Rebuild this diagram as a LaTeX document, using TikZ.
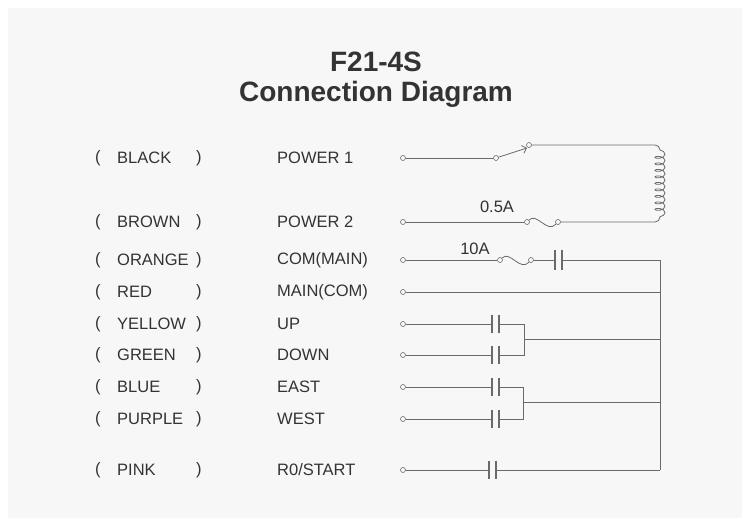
\documentclass[tikz,border=0pt]{standalone}
\usepackage{fontspec}
\setmainfont{Liberation Sans}
\usetikzlibrary{decorations.pathmorphing,arrows.meta}
\definecolor{bg}{HTML}{F7F7F7}
\definecolor{txt}{HTML}{333333}
\definecolor{wire}{HTML}{6A6A6A}
\begin{document}
\begin{tikzpicture}[x=1pt,y=-1pt,
  term/.style={circle,draw=wire,fill=bg,inner sep=0pt,minimum size=5pt,line width=0.6pt},
  lbl/.style={anchor=west,text=txt,font=\fontsize{16.5}{18}\selectfont,inner sep=0pt},
  w/.style={draw=wire,line width=0.8pt},
  plate/.style={draw=wire,line width=1.1pt}]
\fill[white] (0,0) rectangle (750,526);
\fill[bg] (8,8) rectangle (742,518);
\node[text=txt,font=\bfseries\fontsize{28}{30}\selectfont] (t1) at (376,62) {F21-4S};
\node[text=txt,font=\bfseries\fontsize{28}{30}\selectfont] (t2) at (376,94) {Connection Diagram};
\foreach \y/\c/\s [count=\i] in {158/BLACK/POWER 1,222/BROWN/POWER 2,260/ORANGE/COM(MAIN),292/RED/MAIN(COM),324/YELLOW/UP,355/GREEN/DOWN,387/BLUE/EAST,419/PURPLE/WEST,470/PINK/{R0/START}}{
  \node[lbl] (pl\i) at (95,\y) {(};
  \node[lbl] (c\i) at (117,\y) {\c};
  \node[lbl] (pr\i) at (196,\y) {)};
  \node[lbl] (s\i) at (277,\y) {\s};
  \node[term] (a\i) at (403,\y) {};
}
% row 1 switch & coil
\node[term] (sw1) at (496,158) {};
\node[term] (sw2) at (529,145) {};
\draw[w] (a1) -- (sw1);
\draw[w,-{Straight Barb[length=4pt]}] (sw1) -- (527,148);
\coordinate (k1) at (660,150);
\coordinate (k2) at (660,217);
\draw[w] (sw2) -- (655,145) to[out=0,in=90] (k1);
\draw[w,decorate,decoration={coil,amplitude=5pt,segment length=6.5pt,aspect=0.5}] (k1) -- (k2);
% row 2 fuse
\node[term] (f1) at (527,222) {};
\node[term] (f2) at (558,222) {};
\draw[w] (a2) -- (f1);
\draw[w] (f1) .. controls (537,212) and (547,234) .. (f2);
\draw[w] (f2) -- (655,222) to[out=0,in=-90] (k2);
\node[text=txt,font=\fontsize{16.5}{18}\selectfont] (l05) at (497,207) {0.5A};
% row 3
\node[term] (g1) at (500,260) {};
\node[term] (g2) at (531,260) {};
\draw[w] (a3) -- (g1);
\draw[w] (g1) .. controls (510,250) and (520,272) .. (g2);
\draw[w] (g2) -- (555,260);
\draw[plate] (555,250) -- (555,270); \draw[plate] (562,250) -- (562,270);
\coordinate (b3) at (660,260);
\coordinate (b9) at (660,470);
\draw[w] (562,260) -- (b3) -- (b9);
\node[text=txt,font=\fontsize{16.5}{18}\selectfont] (l10) at (475,249) {10A};
% row 4
\draw[w] (a4) -- (660,292);
% contacts
\foreach \i/\y in {5/324,6/355,7/387,8/419}{
  \draw[w] (a\i) -- (492,\y);
  \draw[plate] (492,\y-9) -- (492,\y+9); \draw[plate] (499,\y-9) -- (499,\y+9);
}
\draw[w] (499,324) -- (524,324) -- (524,355) -- (499,355);
\draw[w] (524,339) -- (660,339);
\draw[w] (499,387) -- (523,387) -- (523,419) -- (499,419);
\draw[w] (523,402) -- (660,402);
\draw[w] (a9) -- (489,470);
\draw[plate] (489,461) -- (489,479); \draw[plate] (496,461) -- (496,479);
\draw[w] (496,470) -- (b9);
\end{tikzpicture}
\end{document}
